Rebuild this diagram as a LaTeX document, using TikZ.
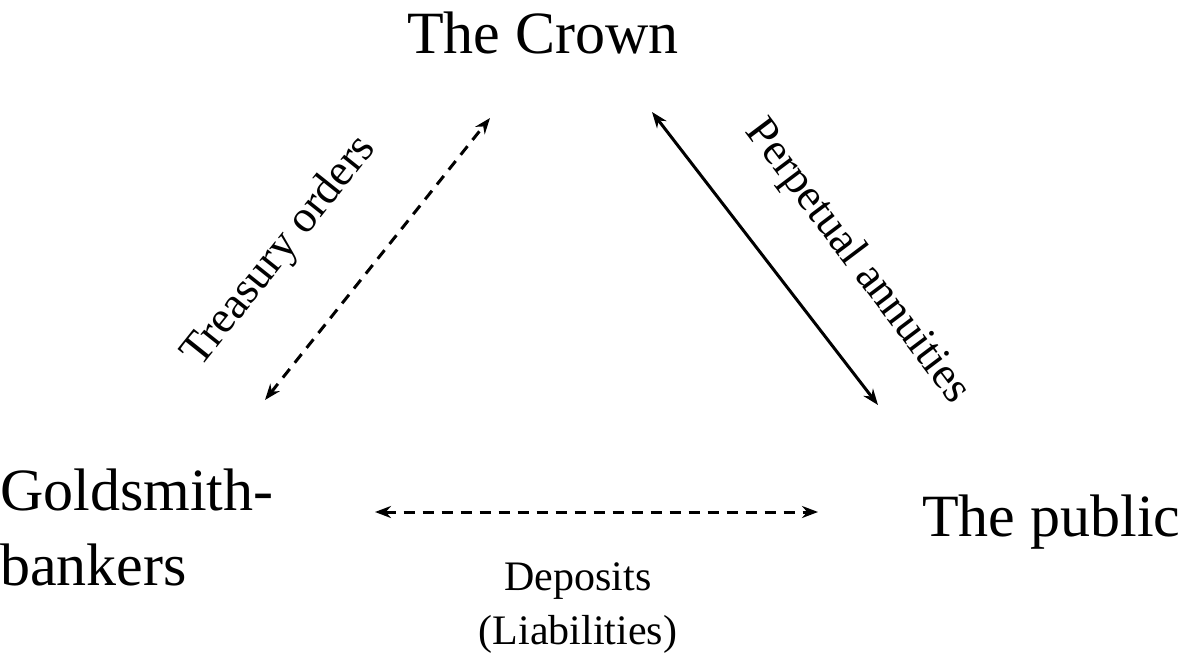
\documentclass[tikz,border=0pt]{standalone}
\usepackage{fontspec}
\setmainfont{Liberation Serif}
\usetikzlibrary{arrows.meta}
\begin{document}
\begin{tikzpicture}[x=1pt,y=-1pt,
  arr/.style={{Stealth[length=16pt,width=12pt]}-{Stealth[length=16pt,width=12pt]},line width=3pt},
  big/.style={font=\fontsize{60}{75}\selectfont,inner sep=0pt},
  lab/.style={font=\fontsize{45}{55}\selectfont,inner sep=0pt}]
\useasboundingbox (0,0) rectangle (1191,669);
\node[big] (crown) at (543,33) {The Crown};
\node[big,align=left,anchor=west] (gold) at (0,527) {Goldsmith-\\bankers};
\node[big,anchor=west] (pub) at (922,522) {The public};
\coordinate (t1) at (265,400); \coordinate (t2) at (490,118);
\coordinate (p1) at (652,112); \coordinate (p2) at (878,405);
\coordinate (d1) at (375,512); \coordinate (d2) at (818,512);
\draw[arr,dash pattern=on 11pt off 8pt] (t1) -- (t2);
\draw[arr] (p1) -- (p2);
\draw[arr,dash pattern=on 11pt off 8pt] (d1) -- (d2);
\node[lab,rotate=51.4] (tl) at (280,252) {Treasury orders};
\node[lab,rotate=-53] (pl) at (857,262) {Perpetual annuities};
\node[lab,align=center,font=\fontsize{42}{54}\selectfont] (dl) at (578,608) {Deposits\\(Liabilities)};
\end{tikzpicture}
\end{document}
